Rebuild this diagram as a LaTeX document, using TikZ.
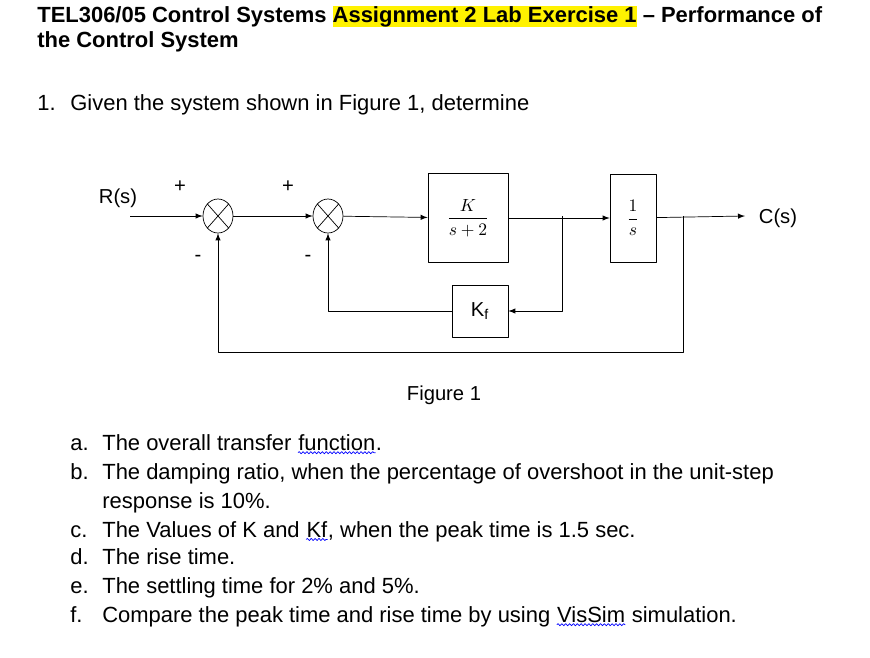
\documentclass[tikz,border=0pt]{standalone}
\usepackage{fontspec}
\setmainfont{Liberation Sans}
\usetikzlibrary{shapes.geometric, decorations.pathmorphing}
\newcommand{\spell}[1]{\tikz[baseline=(w.base)]{\node[inner sep=0pt, anchor=base] (w) {#1};
	\draw[blue, line width=0.4pt, decorate, decoration={snake, amplitude=0.6pt, segment length=2.2pt}] ([yshift=-1.2pt]w.south west) -- ([yshift=-1.2pt]w.south east);}}
\begin{document}
\begin{tikzpicture}[
	x=0.02cm,
	y=-0.02cm,
	line join=round,
	>=latex,
	txt/.style={anchor=base west, inner sep=0pt, font=\fontsize{12.5}{15}\selectfont},
	lbl/.style={inner sep=0pt, font=\fontsize{11.5}{14}\selectfont},
	blk/.style={draw, minimum width=#1, inner sep=0pt},
	sumj/.style={draw, ellipse, minimum width=0.6cm, minimum height=0.68cm, inner sep=0pt},
	]
\useasboundingbox (0,0) rectangle (870,657);
% heading
\node[txt, font=\fontsize{12.5}{15}\selectfont\bfseries] (t1) at (37,22) {TEL306/05 Control Systems {\setlength{\fboxsep}{0pt}\colorbox{yellow}{Assignment 2 Lab Exercise 1}} -- Performance of};
\node[txt, font=\fontsize{12.5}{15}\selectfont\bfseries] (t2) at (37,47) {the Control System};
\node[txt] (q1) at (37,110) {1.};
\node[txt] (q1t) at (70,110) {Given the system shown in Figure 1, determine};
% block diagram
\node[lbl] (r) at (118,198) {R(s)};
\coordinate (rin) at (130,216);
\node[sumj] (s1) at (218,216) {};
\node[sumj] (s2) at (328,216) {};
\foreach \s in {s1, s2}
	{
	\draw (\s.north west) -- (\s.south east);
	\draw (\s.north east) -- (\s.south west);
	}
\node[lbl] (p1) at (180,187) {+};
\node[lbl] (p2) at (288,187) {+};
\node[lbl] (m1) at (198,258) {-};
\node[lbl] (m2) at (308,258) {-};
\node[blk=1.6cm, minimum height=1.78cm] (g) at (468,218) {$\displaystyle\frac{K}{s+2}$};
\node[blk=0.92cm, minimum height=1.76cm] (i) at (633,218) {$\displaystyle\frac{1}{s}$};
\node[blk=1.12cm, minimum height=1.04cm, font=\fontsize{11.5}{14}\selectfont] (kf) at (480,311) {K\textsubscript{f}};
\node[lbl] (c) at (778,218) {C(s)};
\coordinate (b1) at (562,216);
\coordinate (b2) at (683,216);
\coordinate (cout) at (745,216);
\draw[->] (rin) -- (s1);
\draw[->] (s1) -- (s2);
\draw[->] (s2) -- (g);
\draw[->] (g) -- (i);
\draw[->] (i) -- (cout);
\draw[->] (b1) |- (kf);
\draw[->] (kf) -| (s2);
\draw[->] (b2) -- (683,352) -| (s1);
\node[lbl] (fig) at (444,395) {Figure 1};
% questions
\node[txt] (la) at (70,450) {a.};
\node[txt] (ta) at (102,450) {The overall transfer \spell{function}.};
\node[txt] (lb) at (70,479) {b.};
\node[txt] (tb) at (102,479) {The damping ratio, when the percentage of overshoot in the unit-step};
\node[txt] (tb2) at (102,508) {response is 10\%.};
\node[txt] (lc) at (70,537) {c.};
\node[txt] (tc) at (102,537) {The Values of K and \spell{Kf}, when the peak time is 1.5 sec.};
\node[txt] (ld) at (70,564) {d.};
\node[txt] (td) at (102,564) {The rise time.};
\node[txt] (le) at (70,593) {e.};
\node[txt] (te) at (102,593) {The settling time for 2\% and 5\%.};
\node[txt] (lf) at (70,622) {f.};
\node[txt] (tf) at (102,622) {Compare the peak time and rise time by using \spell{VisSim} simulation.};
\end{tikzpicture}
\end{document}
